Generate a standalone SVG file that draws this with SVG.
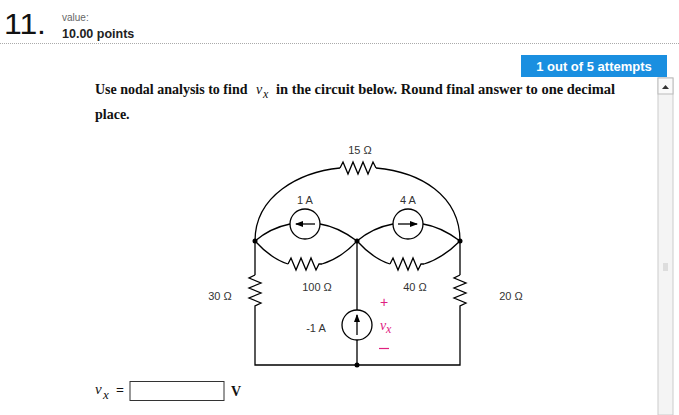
<svg xmlns="http://www.w3.org/2000/svg" width="679" height="415" viewBox="0 0 679 415">
<style>
.w{fill:none;stroke:#000;stroke-width:1.3}
.lb{font-family:'Liberation Sans',Arial,sans-serif;font-size:11px;fill:#333}
.sf{font-family:'Liberation Serif','Times New Roman',serif;font-weight:bold;font-size:14px;fill:#111}
</style>
<defs>
<marker id="ah" markerWidth="8" markerHeight="8" refX="7" refY="4" orient="auto" markerUnits="userSpaceOnUse"><path d="M0,1 L8,4 L0,7 Z" fill="#000"/></marker>
</defs>
<rect width="679" height="415" fill="#fff"/>
<g id="header">
<text x="4" y="34" font-family="Liberation Sans,Arial,sans-serif" font-size="29" fill="#111" textLength="42" lengthAdjust="spacingAndGlyphs">11.</text>
<text x="62" y="21" font-family="Liberation Sans,Arial,sans-serif" font-size="10" fill="#666">value:</text>
<text x="62" y="38" font-family="Liberation Sans,Arial,sans-serif" font-size="12.5" font-weight="bold" fill="#222">10.00 points</text>
<line x1="0" y1="43.5" x2="679" y2="43.5" stroke="#aaa" stroke-dasharray="1,1"/>
<rect x="521" y="55" width="146" height="22" fill="#1a8fe0"/>
<text x="594" y="71" text-anchor="middle" font-family="Liberation Sans,Arial,sans-serif" font-size="13" font-weight="bold" fill="#fff">1 out of 5 attempts</text>
<rect x="658" y="78" width="15" height="337" fill="#f4f4f4" stroke="#ccc"/>
<rect x="658" y="78" width="15" height="16" fill="#fafafa" stroke="#bbb"/>
<path d="M662,89 L665.5,85 L669,89 Z" fill="#333"/>
<rect x="663" y="263" width="5" height="8" fill="#ddd"/>
</g>
<g id="question">
<text x="95" y="94" class="sf">Use nodal analysis to find</text>
<text x="256" y="94" font-family="Liberation Serif,serif" font-style="italic" font-size="14" fill="#111">v</text>
<text x="263" y="98" font-family="Liberation Serif,serif" font-style="italic" font-size="12" fill="#111">x</text>
<text x="276" y="94" class="sf" textLength="339" lengthAdjust="spacingAndGlyphs">in the circuit below. Round final answer to one decimal</text>
<text x="95" y="119" class="sf">place.</text>
</g>
<g id="connectors">
<path class="w" d="M255,241 C255,195 300,172 340,168 M376,168 C420,172 460,195 460,241"/>
<path class="w" d="M255,241 C268,230 280,226 290,224 M320,224 C333,226 345,232 357,241"/>
<path class="w" d="M357,241 C370,230 382,226 393,224 M423,224 C436,226 448,232 460,241"/>
<path class="w" d="M255,241 C265,252 275,260 288,264 M322,264 C335,260 347,252 357,241"/>
<path class="w" d="M357,241 C367,252 377,260 390,264 M424,264 C437,260 449,252 460,241"/>
<path class="w" d="M255,241 V275 M255,310 V365 H460 V310 M460,275 V241"/>
<path class="w" d="M357,241 V310 M357,340 V365"/>
</g>
<g id="r15"><path class="w" d="M340,168 l3,-6 l5,12 l5,-12 l5,12 l5,-12 l5,12 l5,-12 l3,6"/><text class="lb" x="360" y="154" text-anchor="middle">15 Ω</text></g>
<g id="r100"><path class="w" d="M288,264 l3,-6 l5,12 l5,-12 l5,12 l5,-12 l5,12 l3,-6 h3"/><text class="lb" x="317" y="291" text-anchor="middle">100 Ω</text></g>
<g id="r40"><path class="w" d="M390,264 l3,-6 l5,12 l5,-12 l5,12 l5,-12 l5,12 l3,-6 h3"/><text class="lb" x="415" y="291" text-anchor="middle">40 Ω</text></g>
<g id="r30"><path class="w" d="M255,275 l-6,3 l12,5 l-12,5 l12,5 l-12,5 l12,5 l-6,3 v4"/><text class="lb" x="220" y="300" text-anchor="middle">30 Ω</text></g>
<g id="r20"><path class="w" d="M460,275 l-6,3 l12,5 l-12,5 l12,5 l-12,5 l12,5 l-6,3 v4"/><text class="lb" x="511" y="300" text-anchor="middle">20 Ω</text></g>
<g id="s1"><circle class="w" cx="305" cy="224" r="15"/><line class="w" x1="315" y1="224" x2="296" y2="224" marker-end="url(#ah)"/><text class="lb" x="305" y="204" text-anchor="middle">1 A</text></g>
<g id="s4"><circle class="w" cx="408" cy="224" r="15"/><line class="w" x1="398" y1="224" x2="417" y2="224" marker-end="url(#ah)"/><text class="lb" x="408" y="204" text-anchor="middle">4 A</text></g>
<g id="sm1"><circle class="w" cx="357" cy="325" r="15"/><line class="w" x1="357" y1="335" x2="357" y2="315" marker-end="url(#ah)"/><text class="lb" x="316" y="332" text-anchor="middle">-1 A</text>
<text x="384" y="307" text-anchor="middle" font-family="Liberation Sans,sans-serif" font-size="14" fill="#e0207f">+</text>
<text x="380" y="330" font-family="Liberation Serif,serif" font-style="italic" font-size="14" fill="#e0207f">v</text>
<text x="386" y="333" font-family="Liberation Serif,serif" font-style="italic" font-size="12" fill="#e0207f">x</text>
<line x1="379" y1="348.5" x2="389" y2="348.5" stroke="#e0207f" stroke-width="1.2"/></g>
<g id="nodes" fill="#000"><circle cx="255" cy="241" r="2.5"/><circle cx="357" cy="241" r="2.5"/><circle cx="460" cy="241" r="2.5"/><circle cx="357" cy="365" r="2.5"/></g>
<g id="answer">
<text x="95" y="394" font-family="Liberation Serif,serif" font-style="italic" font-size="15" fill="#111">v</text>
<text x="103" y="399" font-family="Liberation Serif,serif" font-style="italic" font-size="13" fill="#111">x</text>
<text x="116" y="395" class="sf">=</text>
<rect x="130" y="381.5" width="94" height="19" fill="#fff" stroke="#333"/>
<text x="231" y="396" class="sf">V</text>
</g>
</svg>
